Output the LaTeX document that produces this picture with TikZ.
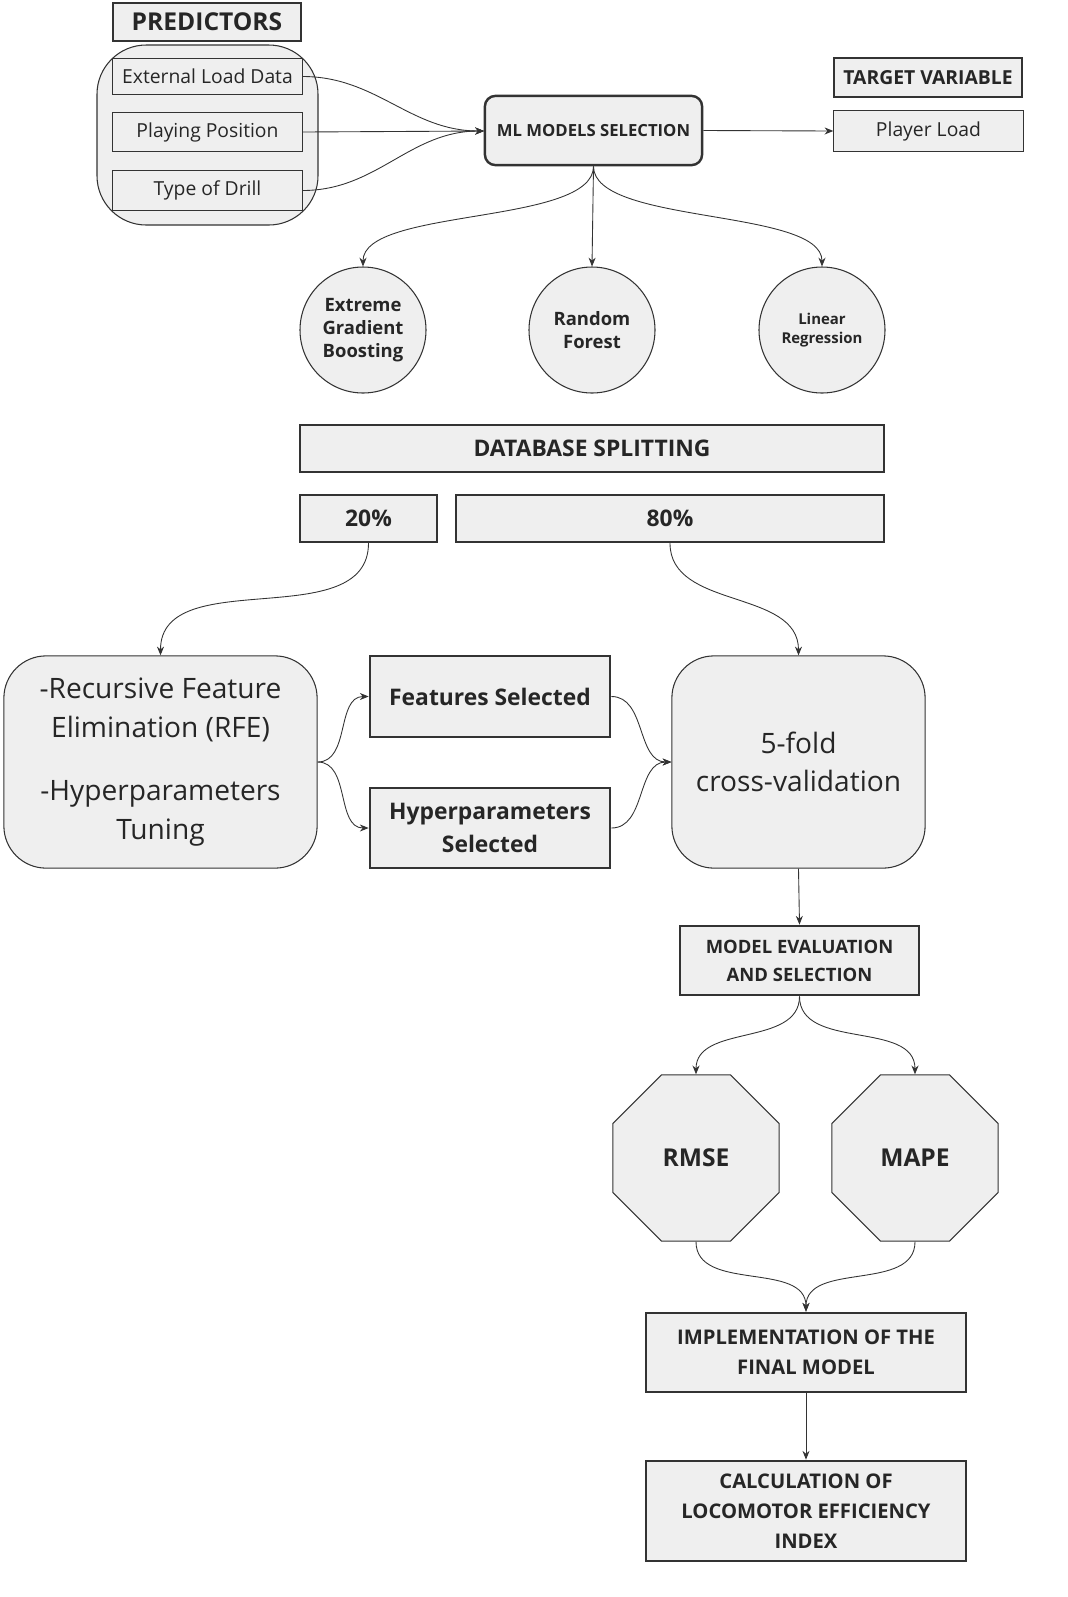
\documentclass[tikz,border=0pt]{standalone}
\usepackage{fontspec}
\setmainfont{Open Sans}
\usetikzlibrary{shapes.geometric,arrows.meta}
\definecolor{bx}{HTML}{EFEFEF}
\definecolor{ln}{HTML}{333333}
\begin{document}
\begin{tikzpicture}[x=0.02cm,y=-0.02cm,
  box/.style={draw=ln,fill=bx,line width=0.6pt,inner sep=2pt,align=center,text=black!85},
  bbox/.style={box,line width=1.4pt,font=\bfseries},
  arr/.style={draw=ln,line width=0.5pt,-{Stealth[length=5pt,width=4pt]}},
  ln/.style={draw=ln,line width=0.5pt}]
\useasboundingbox (0,0) rectangle (1068,1597);
\newcommand{\bx}[6]{\node[#1,minimum width=#4*0.02cm-1pt,minimum height=#5*0.02cm-1pt] (#2) at (#3) {#6};}
% predictors
\draw[draw=ln,fill=bx,line width=0.6pt,rounded corners=28pt] (97,45) rectangle (318,225);
\bx{bbox,font=\bfseries\fontsize{14}{16}\selectfont}{pred}{207,22}{190}{40}{PREDICTORS}
\bx{box,font=\fontsize{11}{13}\selectfont}{eld}{207.5,76.5}{191}{37}{External Load Data}
\bx{box,font=\fontsize{11}{13}\selectfont}{pp}{207.5,132}{191}{40}{Playing Position}
\bx{box,font=\fontsize{11}{13}\selectfont}{tod}{207.5,190.5}{191}{41}{Type of Drill}
\bx{bbox,rounded corners=6pt,font=\bfseries\fontsize{9.5}{11}\selectfont}{ml}{593.5,130.5}{219}{71}{ML MODELS SELECTION}
\bx{bbox,font=\bfseries\fontsize{11}{13}\selectfont}{tv}{928,77.5}{190}{41}{TARGET VARIABLE}
\bx{box,font=\fontsize{11}{13}\selectfont}{pl}{928.5,131}{191}{42}{Player Load}
\coordinate (mlin) at (484,131);
\draw[arr] (eld.east) to[out=0,in=180] (mlin);
\draw[arr] (pp.east) -- (mlin);
\draw[arr] (tod.east) to[out=0,in=180] (mlin);
\draw[arr] (ml.east) -- (pl.west);
% circles
\tikzset{circ/.style={circle,draw=ln,fill=bx,line width=0.6pt,minimum size=126*0.02cm,inner sep=0pt,align=center,font=\bfseries\fontsize{10.5}{13}\selectfont,text=black!85}}
\node[circ] (xgb) at (363,330) {Extreme\\Gradient\\Boosting};
\node[circ] (rf) at (592,330) {Random\\Forest};
\node[circ,font=\bfseries\fontsize{8.5}{11}\selectfont] (lr) at (822,330) {Linear\\Regression};
\draw[arr] (ml.south) to[out=-90,in=90,looseness=0.6] (xgb.north);
\draw[arr] (ml.south) -- (rf.north);
\draw[arr] (ml.south) to[out=-90,in=90,looseness=0.6] (lr.north);
% splitting
\bx{box,line width=1.1pt,font=\bfseries\fontsize{13}{15}\selectfont}{ds}{592,448.5}{586}{49}{DATABASE SPLITTING}
\bx{box,line width=1.1pt,font=\bfseries\fontsize{13}{15}\selectfont}{p20}{368.5,518.5}{139}{49}{20\%}
\bx{box,line width=1.1pt,font=\bfseries\fontsize{13}{15}\selectfont}{p80}{670,518.5}{430}{49}{80\%}
\bx{box,rounded corners=24pt,font=\fontsize{16}{22}\selectfont}{rfe}{160.5,762}{315}{214}{-Recursive Feature\\Elimination (RFE)\\[14pt]-Hyperparameters\\Tuning}
\bx{bbox,font=\bfseries\fontsize{13}{19}\selectfont}{fs}{490,696.5}{242}{83}{Features Selected}
\bx{bbox,font=\bfseries\fontsize{13}{19}\selectfont}{hs}{490,828}{242}{82}{Hyperparameters\\Selected}
\bx{box,rounded corners=24pt,font=\fontsize{16}{22}\selectfont}{cv}{798.5,762}{255}{214}{5-fold\\cross-validation}
\draw[arr] (p20.south) to[out=-90,in=90] (rfe.north);
\draw[arr] (p80.south) to[out=-90,in=90] (cv.north);
\draw[arr] (rfe.east) to[out=0,in=180] (fs.west);
\draw[arr] (rfe.east) to[out=0,in=180] (hs.west);
\draw[arr] (fs.east) to[out=0,in=180] (cv.west);
\draw[arr] (hs.east) to[out=0,in=180] (cv.west);
\bx{bbox,font=\bfseries\fontsize{10.5}{16}\selectfont}{me}{799.5,960.5}{241}{71}{MODEL EVALUATION\\AND SELECTION}
\draw[arr] (cv.south) -- (me.north);
\tikzset{oct/.style={regular polygon,regular polygon sides=8,draw=ln,fill=bx,line width=0.6pt,minimum size=180*0.02cm,inner sep=0pt,font=\bfseries\fontsize{14}{16}\selectfont,text=black!85}}
\node[oct] (rmse) at (696,1158) {RMSE};
\node[oct] (mape) at (915,1158) {MAPE};
\draw[arr] (me.south) to[out=-90,in=90] (rmse.north);
\draw[arr] (me.south) to[out=-90,in=90] (mape.north);
\bx{bbox,font=\bfseries\fontsize{11.5}{17}\selectfont}{impl}{806,1352.5}{322}{81}{IMPLEMENTATION OF THE\\FINAL MODEL}
\draw[arr] (rmse.south) to[out=-90,in=90] (impl.north);
\draw[arr] (mape.south) to[out=-90,in=90] (impl.north);
\bx{bbox,font=\bfseries\fontsize{11.5}{17}\selectfont}{calc}{806,1511}{322}{102}{CALCULATION OF\\LOCOMOTOR EFFICIENCY\\INDEX}
\draw[arr] (impl.south) -- (calc.north);
\end{tikzpicture}
\end{document}
